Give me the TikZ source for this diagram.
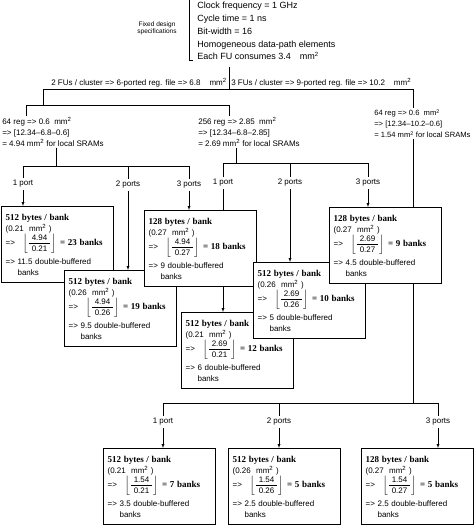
\documentclass[tikz,border=0pt]{standalone}
\usepackage{amsmath}
\usepackage{fontspec}
\setmainfont{Liberation Sans}
\newfontfamily\tms{Liberation Serif}
\usetikzlibrary{backgrounds}

\newcommand\sq{\textsuperscript{2}}
\newcommand\banktext[5]{{\tms\bfseries\fontsize{9}{11}\selectfont #1 bytes / bank}\\
(#2\ \ mm\sq\ )\\
=>\quad$\left\lfloor\dfrac{\mbox{\ #3\ }}{\mbox{\ #2\ }}\right\rfloor$\enspace{\tms\bfseries\fontsize{9}{11}\selectfont = #4 banks}\\[4pt]
=> #5 double-buffered\\
\hspace*{1.5em}banks}

\begin{document}
\begin{tikzpicture}[x=1pt,y=-1pt,font=\fontsize{8}{11}\selectfont,>=latex,line width=.6pt,
  bank/.style={draw,line width=1.2pt,fill=white,anchor=north west,minimum width=112pt,minimum height=76pt,text width=104pt,inner xsep=4pt,inner ysep=2pt,align=left},
  txt/.style={anchor=north west,inner sep=1pt,align=left},
  port/.style={inner sep=2pt}]
\useasboundingbox (0,0) rectangle (474,525);

% design specifications
\node[txt,inner sep=0pt,font=\fontsize{9}{12.75}\selectfont] (spec) at (197,2) {Clock frequency = 1 GHz\\Cycle time = 1 ns\\Bit-width = 16\\Homogeneous data-path elements\\Each FU consumes 3.4\hspace{9pt}mm\sq};
\node[font=\fontsize{6.5}{7.5}\selectfont,align=center] (fix) at (157,28.5) {Fixed design\\specifications};
\draw (189,0) -- (189,60) -- (193,60);

% register files
\coordinate (t0) at (229,67);
\coordinate (t1) at (229,89);
\coordinate (l0) at (43,89);
\coordinate (r0) at (413,89);
\coordinate (l1) at (43,105);
\coordinate (la) at (26,105);
\coordinate (lb) at (229,105);

\node[above left,inner sep=2pt] (fu2) at (t1) {2 FUs / cluster => 6-ported reg. file => 6.8\hspace{9pt}mm\sq};
\node[above right,inner sep=2pt] (fu3) at (t1) {3 FUs / cluster => 9-ported reg. file => 10.2\hspace{9pt}mm\sq};

\node[txt] (regl) at (1,116) {64 reg => 0.6\ \ mm\sq\\=> [12.34--6.8--0.6]\\= 4.94 mm\sq\ for local SRAMs};
\node[txt] (regm) at (197,116) {256 reg => 2.85\ \ mm\sq\\=> [12.34--6.8--2.85]\\= 2.69 mm\sq\ for local SRAMs};
\node[txt,font=\fontsize{7.6}{11}\selectfont] (regr) at (373,108) {64 reg => 0.6\ \ mm\sq\\=> [12.34--10.2--0.6]\\= 1.54 mm\sq\ for local SRAMs};

% bank boxes
\node[bank] (ba) at (1,206) {\banktext{512}{0.21}{4.94}{23}{11.5}};
\node[bank] (bb) at (64,270) {\banktext{512}{0.26}{4.94}{19}{9.5}};
\node[bank] (bc) at (144,210) {\banktext{128}{0.27}{4.94}{18}{9}};
\node[bank] (be) at (181,312) {\banktext{512}{0.21}{2.69}{12}{6}};
\node[bank] (bd) at (253,262) {\banktext{512}{0.26}{2.69}{10}{5}};
\node[bank] (bf) at (329,207) {\banktext{128}{0.27}{2.69}{9}{4.5}};
\node[bank] (bg) at (103,448) {\banktext{512}{0.21}{1.54}{7}{3.5}};
\node[bank] (bh) at (228,448) {\banktext{512}{0.26}{1.54}{5}{2.5}};
\node[bank] (bi) at (361,448) {\banktext{128}{0.27}{1.54}{5}{2.5}};

% ports
\coordinate (lc) at (56,166);
\coordinate (p1) at (23,166);
\coordinate (p2) at (128,166);
\coordinate (p3) at (189,166);
\node[port] (lp1) at (23,184) {1 port};
\node[port] (lp2) at (128,185) {2 ports};
\node[port] (lp3) at (189,185) {3 ports};

\coordinate (mc) at (236,163);
\coordinate (m1) at (223,163);
\coordinate (m2) at (290,163);
\coordinate (m3) at (368,163);
\node[port] (mp1) at (223,183) {1 port};
\node[port] (mp2) at (290,183) {2 ports};
\node[port] (mp3) at (368,183) {3 ports};

\coordinate (rc) at (413,403);
\coordinate (q1) at (163,403);
\coordinate (q2) at (279,403);
\coordinate (q3) at (438,403);
\node[port] (qp1) at (163,422) {1 port};
\node[port] (qp2) at (279,422) {2 ports};
\node[port] (qp3) at (438,422) {3 ports};

\begin{pgfonlayer}{background}
\draw (t0) -- (t1);
\draw (l0) -- (r0);
\draw (l0) -- (l1);
\draw (la) -- (lb);
\draw (la) -- (la |- regl.north);
\draw (lb) -- (lb |- regm.north);
\draw (r0) -- (r0 |- regr.north);

\draw (lc |- regl.south) -- (lc);
\draw (p1) -- (p3);
\draw[->] (p1) -- (lp1) -- (lp1 |- ba.north);
\draw[->] (p2) -- (lp2) -- (lp2 |- bb.north);
\draw[->] (p3) -- (lp3) -- (lp3 |- bc.north);

\draw (mc |- regm.south) -- (mc);
\draw (m1) -- (m3);
\draw[->] (m1) -- (mp1) -- (mp1 |- be.north);
\draw[->] (m2) -- (mp2) -- (mp2 |- bd.north);
\draw[->] (m3) -- (mp3) -- (mp3 |- bf.north);

\draw (rc |- regr.south) -- (rc);
\draw (q1) -- (q3);
\draw[->] (q1) -- (qp1) -- (qp1 |- bg.north);
\draw[->] (q2) -- (qp2) -- (qp2 |- bh.north);
\draw[->] (q3) -- (qp3) -- (qp3 |- bi.north);
\end{pgfonlayer}

\end{tikzpicture}
\end{document}
